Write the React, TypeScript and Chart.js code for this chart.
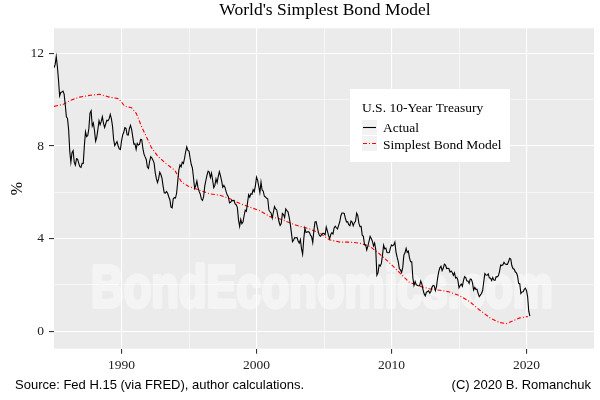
import React, { useEffect, useRef } from 'react';
import { Chart, registerables } from 'chart.js';

Chart.register(...registerables);

// monthly 10-year Treasury yield (%), starting Jan 1985
const actualStartYear = 1985;
const actual1980s = [
  11.38, 11.51, 11.86, 11.43, 10.85, 10.16, 10.31, 10.33, 10.37, 10.24, 9.78, 9.26,
  9.19, 8.7, 7.78, 7.3, 7.71, 7.8, 7.3, 7.17, 7.45, 7.43, 7.25, 7.11,
  7.08, 7.25, 7.25, 8.02, 8.61, 8.4, 8.45, 8.76, 9.42, 9.52, 8.86, 8.99,
  8.67, 8.21, 8.37, 8.72, 9.09, 8.92, 9.06, 9.26, 8.98, 8.8, 8.96, 9.11,
  9.09, 9.17, 9.36, 9.18, 8.86, 8.28, 8.02, 8.11, 8.19, 8.01, 7.87, 7.84,
];
const actual1990s = [
  8.21, 8.47, 8.59, 8.79, 8.76, 8.48, 8.47, 8.75, 8.89, 8.72, 8.39, 8.08,
  8.09, 7.85, 8.11, 8.04, 8.07, 8.28, 8.27, 7.9, 7.65, 7.53, 7.42, 7.09,
  7.03, 7.34, 7.54, 7.48, 7.39, 7.26, 6.84, 6.59, 6.42, 6.59, 6.87, 6.77,
  6.6, 6.26, 5.98, 5.97, 6.04, 5.96, 5.81, 5.68, 5.36, 5.33, 5.72, 5.77,
  5.75, 5.97, 6.48, 6.97, 7.18, 7.1, 7.3, 7.24, 7.46, 7.74, 7.96, 7.81,
  7.78, 7.47, 7.2, 7.06, 6.63, 6.17, 6.28, 6.49, 6.2, 6.04, 5.93, 5.71,
  5.65, 5.81, 6.27, 6.51, 6.74, 6.91, 6.87, 6.64, 6.83, 6.53, 6.2, 6.3,
  6.58, 6.42, 6.69, 6.89, 6.71, 6.49, 6.22, 6.3, 6.21, 6.03, 5.88, 5.81,
  5.54, 5.57, 5.65, 5.64, 5.65, 5.5, 5.46, 5.34, 4.81, 4.53, 4.83, 4.65,
  4.72, 5.0, 5.23, 5.18, 5.54, 5.9, 5.79, 5.94, 5.92, 6.11, 6.03, 6.28,
];
const actual2000s = [
  6.66, 6.52, 6.26, 5.99, 6.44, 6.1, 6.05, 5.83, 5.8, 5.74, 5.72, 5.24,
  5.16, 5.1, 4.89, 5.14, 5.39, 5.28, 5.24, 4.97, 4.73, 4.57, 4.65, 5.09,
  5.04, 4.91, 5.28, 5.21, 5.16, 4.93, 4.65, 4.26, 3.87, 3.94, 4.05, 4.03,
  4.05, 3.9, 3.81, 3.96, 3.57, 3.33, 3.98, 4.45, 4.27, 4.29, 4.3, 4.27,
  4.15, 4.08, 3.83, 4.35, 4.72, 4.73, 4.5, 4.28, 4.13, 4.1, 4.19, 4.23,
  4.22, 4.17, 4.5, 4.34, 4.14, 4.0, 4.18, 4.26, 4.2, 4.46, 4.54, 4.47,
  4.42, 4.57, 4.72, 4.99, 5.11, 5.11, 5.09, 4.88, 4.72, 4.73, 4.6, 4.56,
  4.76, 4.72, 4.56, 4.69, 4.75, 5.1, 5.0, 4.67, 4.52, 4.53, 4.15, 4.1,
  3.74, 3.74, 3.51, 3.68, 3.88, 4.1, 4.01, 3.89, 3.69, 3.81, 3.53, 2.42,
  2.52, 2.87, 2.82, 2.93, 3.29, 3.72, 3.56, 3.59, 3.4, 3.39, 3.4, 3.59,
];
const actual2010s = [
  3.73, 3.69, 3.73, 3.85, 3.42, 3.2, 3.01, 2.7, 2.65, 2.54, 2.76, 3.29,
  3.39, 3.58, 3.41, 3.46, 3.17, 3.0, 3.0, 2.3, 1.98, 2.15, 2.01, 1.98,
  1.97, 1.97, 2.17, 2.05, 1.8, 1.62, 1.53, 1.68, 1.72, 1.75, 1.65, 1.72,
  1.91, 1.98, 1.96, 1.76, 1.93, 2.3, 2.58, 2.74, 2.81, 2.62, 2.72, 2.9,
  2.86, 2.71, 2.72, 2.71, 2.56, 2.6, 2.54, 2.42, 2.53, 2.3, 2.33, 2.21,
  1.88, 1.98, 2.04, 1.94, 2.2, 2.36, 2.32, 2.17, 2.17, 2.07, 2.26, 2.24,
  2.09, 1.78, 1.89, 1.81, 1.81, 1.64, 1.5, 1.56, 1.63, 1.76, 2.14, 2.49,
  2.43, 2.42, 2.48, 2.3, 2.3, 2.19, 2.32, 2.21, 2.2, 2.36, 2.35, 2.4,
  2.58, 2.86, 2.84, 2.87, 2.98, 2.91, 2.89, 2.89, 3.0, 3.15, 3.12, 2.83,
  2.71, 2.68, 2.57, 2.53, 2.4, 2.07, 2.06, 1.63, 1.7, 1.71, 1.81, 1.86,
  1.76, 1.5, 0.87, 0.66,
];

// model curve
const modelYears = [
  1985.0, 1985.7, 1986.2, 1986.9, 1987.7, 1988.4, 1989.1, 1989.8, 1990.25, 1990.75,
  1991.1, 1991.5, 1991.85, 1992.2, 1992.7, 1993.3, 1993.95, 1994.45, 1994.95, 1995.8,
  1996.5, 1997.3, 1998.0, 1998.8, 1999.5, 2000.2, 2001.0, 2001.7, 2002.5, 2003.2,
  2003.9, 2004.7, 2005.4, 2006.2, 2006.9, 2007.6, 2008.4, 2009.1, 2009.8, 2010.6,
  2011.3, 2012.1, 2012.8, 2013.6, 2014.3, 2015.0, 2015.8, 2016.5, 2017.3, 2018.0,
  2018.5, 2019.0, 2019.5, 2020.1,
];
const modelValues = [
  9.71, 9.8, 9.97, 10.11, 10.19, 10.23, 10.11, 10.04, 9.71, 9.65,
  9.4, 8.82, 8.39, 7.95, 7.55, 7.24, 6.95, 6.44, 6.26, 6.09,
  5.94, 5.87, 5.73, 5.51, 5.36, 5.22, 4.95, 4.86, 4.67, 4.53,
  4.43, 4.24, 3.95, 3.85, 3.85, 3.81, 3.67, 3.35, 2.99, 2.53,
  2.13, 1.94, 1.84, 1.77, 1.7, 1.55, 1.28, 0.93, 0.58, 0.38,
  0.33, 0.45, 0.58, 0.64,
];

const xMajorTicks = [1990, 2000, 2010, 2020];
const xMinorTicks = [1995, 2005, 2015];
const yMajorTicks = [0, 4, 8, 12];
const yMinorTicks = [2, 6, 10];

const SERIF = '"Liberation Serif", "Times New Roman", serif';
const SANS = '"Liberation Sans", Arial, sans-serif';
const MODEL_DASH = [4, 2, 1, 2];

const decorPlugin = {
  id: 'decor',
  beforeDraw(chart: any) {
    const { ctx, chartArea: a } = chart;
    ctx.save();
    ctx.fillStyle = '#EBEBEB';
    ctx.fillRect(a.left, a.top, a.right - a.left, a.bottom - a.top);

    // watermark sits under the grid lines
    ctx.font = `bold 60px ${SANS}`;
    const text = 'BondEconomics.com';
    const w = ctx.measureText(text).width;
    ctx.translate(91, 307);
    ctx.scale(462 / w, 1);
    ctx.fillStyle = '#F4F4F4';
    ctx.strokeStyle = '#F4F4F4';
    ctx.lineWidth = 4;
    ctx.lineJoin = 'round';
    ctx.textBaseline = 'alphabetic';
    ctx.textAlign = 'left';
    ctx.strokeText(text, 0, 0);
    ctx.fillText(text, 0, 0);
    ctx.restore();
  },
  afterDraw(chart: any) {
    const { ctx, chartArea: a } = chart;
    ctx.save();
    // title
    ctx.fillStyle = '#000';
    ctx.font = `17.5px ${SERIF}`;
    ctx.textAlign = 'center';
    ctx.textBaseline = 'alphabetic';
    ctx.fillText("World's Simplest Bond Model", 325, 15);

    // y axis title
    ctx.save();
    ctx.translate(17.5, (a.top + a.bottom) / 2);
    ctx.rotate(-Math.PI / 2);
    ctx.font = `16px ${SERIF}`;
    ctx.textBaseline = 'middle';
    ctx.fillText('%', 0, 0);
    ctx.restore();

    // legend
    ctx.fillStyle = '#fff';
    ctx.fillRect(350, 89, 160, 73);
    ctx.fillStyle = '#000';
    ctx.font = `13.5px ${SERIF}`;
    ctx.textAlign = 'left';
    ctx.textBaseline = 'middle';
    ctx.fillText('U.S. 10-Year Treasury', 362, 108);
    ctx.fillStyle = '#F2F2F2';
    ctx.fillRect(362, 120, 15, 15);
    ctx.fillRect(362, 136, 15, 15);
    ctx.lineWidth = 1.1;
    ctx.strokeStyle = '#000';
    ctx.beginPath();
    ctx.moveTo(363, 127.5);
    ctx.lineTo(376, 127.5);
    ctx.stroke();
    ctx.strokeStyle = '#FF0000';
    ctx.setLineDash(MODEL_DASH);
    ctx.beginPath();
    ctx.moveTo(363, 143.5);
    ctx.lineTo(376, 143.5);
    ctx.stroke();
    ctx.setLineDash([]);
    ctx.fillStyle = '#000';
    ctx.fillText('Actual', 383, 128);
    ctx.fillText('Simplest Bond Model', 383, 145);

    // captions
    ctx.font = `13px ${SANS}`;
    ctx.textBaseline = 'alphabetic';
    ctx.textAlign = 'left';
    ctx.fillText('Source: Fed H.15 (via FRED), author calculations.', 15, 389);
    ctx.textAlign = 'right';
    ctx.fillText('(C) 2020 B. Romanchuk', 591, 389);
    ctx.restore();
  },
};

const App: React.FC = () => {
  const canvasRef = useRef<HTMLCanvasElement>(null);

  useEffect(() => {
    if (!canvasRef.current) return;

    const actualValues = [...actual1980s, ...actual1990s, ...actual2000s, ...actual2010s];
    const actualPoints = actualValues.map((v, i) => ({ x: actualStartYear + i / 12, y: v }));
    const modelPoints = modelYears.map((yr, i) => ({ x: yr, y: modelValues[i] }));

    const isMajorX = (v: number) => xMajorTicks.includes(v);
    const isMajorY = (v: number) => yMajorTicks.includes(v);
    const tickFont = { family: SERIF, size: 13.5 };

    const chart = new Chart(canvasRef.current, {
      type: 'line',
      data: {
        datasets: [
          {
            label: 'Actual',
            data: actualPoints,
            borderColor: '#000000',
            borderWidth: 1.1,
            pointRadius: 0,
            tension: 0,
          },
          {
            label: 'Simplest Bond Model',
            data: modelPoints,
            borderColor: '#FF0000',
            borderWidth: 1.1,
            borderDash: MODEL_DASH,
            pointRadius: 0,
            tension: 0,
          },
        ],
      },
      options: {
        animation: false,
        responsive: true,
        maintainAspectRatio: false,
        layout: { padding: { top: 28.3, right: 6, left: 0, bottom: 0 } },
        plugins: {
          legend: { display: false },
          title: { display: false },
          tooltip: { enabled: false },
        },
        scales: {
          x: {
            type: 'linear',
            min: 1985,
            max: 2025,
            afterBuildTicks: (scale: any) => {
              scale.ticks = [...xMajorTicks, ...xMinorTicks]
                .sort((p, q) => p - q)
                .map((value) => ({ value }));
            },
            afterFit: (scale: any) => {
              scale.height = 51.3;
            },
            border: { display: false },
            grid: {
              color: '#FFFFFF',
              lineWidth: (c: any) => (isMajorX(c.tick?.value) ? 1.1 : 0.55),
              tickColor: (c: any) => (isMajorX(c.tick?.value) ? '#333333' : 'rgba(0,0,0,0)'),
              tickLength: 5,
            },
            ticks: {
              autoSkip: false,
              maxRotation: 0,
              padding: 4,
              color: '#222222',
              font: tickFont,
              callback: (v: any) => (isMajorX(v) ? String(v) : ''),
            },
          },
          y: {
            type: 'linear',
            min: -0.75,
            max: 13.08,
            afterBuildTicks: (scale: any) => {
              scale.ticks = [...yMajorTicks, ...yMinorTicks]
                .sort((p, q) => p - q)
                .map((value) => ({ value }));
            },
            afterFit: (scale: any) => {
              scale.width = 54;
            },
            border: { display: false },
            grid: {
              color: '#FFFFFF',
              lineWidth: (c: any) => (isMajorY(c.tick?.value) ? 1.1 : 0.55),
              tickColor: (c: any) => (isMajorY(c.tick?.value) ? '#333333' : 'rgba(0,0,0,0)'),
              tickLength: 5,
            },
            ticks: {
              autoSkip: false,
              padding: 5,
              color: '#222222',
              font: tickFont,
              callback: (v: any) => (isMajorY(v) ? String(v) : ''),
            },
          },
        },
      },
      plugins: [decorPlugin],
    } as any);

    return () => {
      chart.destroy();
    };
  }, []);

  return (
    <div style={{ position: 'fixed', left: 0, top: 0, width: 600, height: 400, background: '#fff' }}>
      <canvas ref={canvasRef}></canvas>
    </div>
  );
};

export default App;
